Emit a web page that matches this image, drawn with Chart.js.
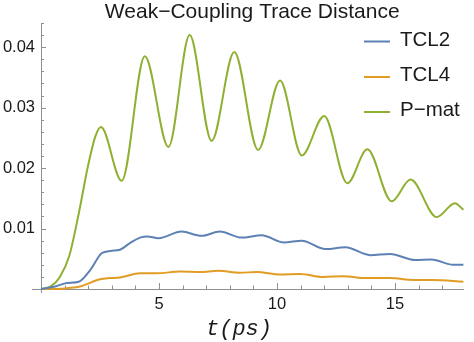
<!DOCTYPE html>
<html>
<head>
<meta charset="utf-8">
<script src="https://cdn.jsdelivr.net/npm/chart.js@4.4.1/dist/chart.umd.min.js"></script>
<style>
  html, body { margin: 0; padding: 0; background: #fff; }
  #wrap { width: 474px; height: 342px; }
</style>
</head>
<body>
<div id="wrap"><canvas id="chart"></canvas></div>
<script>
// values (t in ps, trace distance)
const tcl2T = [0, 0.6, 1.1, 1.6, 2.08, 2.57, 2.95, 3.35, 3.77, 4.2, 4.5, 4.97, 5.96, 6.8, 7.58, 8.5, 9.35, 10.3, 11.05, 12.05, 12.9, 13.95, 14.8, 15.85, 16.55, 17.47, 17.9];
const tcl2V = [0, 0.0004, 0.001, 0.0012, 0.0031, 0.0059, 0.0063, 0.0065, 0.0076, 0.0085, 0.0087, 0.0084, 0.0095, 0.0088, 0.0095, 0.0085, 0.0089, 0.0077, 0.0080, 0.0066, 0.0069, 0.0056, 0.0058, 0.0048, 0.0049, 0.0040, 0.0040];

const tcl4T = [0, 1.0, 1.65, 2.5, 2.9, 3.35, 4.2, 4.9, 5.9, 6.74, 7.5, 8.43, 9.14, 10.13, 10.97, 11.96, 12.81, 13.8, 14.8, 15.78, 16.6, 17.9];
const tcl4V = [0, 0.0001, 0.0004, 0.0016, 0.0018, 0.0019, 0.0026, 0.0026, 0.0029, 0.0028, 0.0030, 0.0027, 0.0028, 0.0024, 0.0025, 0.0020, 0.0021, 0.0018, 0.0018, 0.0015, 0.0015, 0.0012];

const pmatT = [0, 0.4, 0.8, 1.2, 1.6, 2.0, 2.3, 2.54, 3.42, 4.4, 5.4, 6.3, 7.23, 8.19, 9.2, 10.13, 11.05, 12.0, 12.98, 13.83, 14.86, 15.66, 16.77, 17.54, 17.9];
const pmatV = [0, 0.0004, 0.002, 0.0055, 0.0125, 0.0205, 0.0252, 0.0268, 0.0179, 0.0385, 0.0235, 0.042, 0.0245, 0.0392, 0.023, 0.0345, 0.0221, 0.0286, 0.0175, 0.0231, 0.0145, 0.0181, 0.0119, 0.0142, 0.0131];

const seriesNames = ['TCL2', 'TCL4', 'P\u2212mat'];
const seriesColors = ['#5E81B5', '#E19C24', '#8FB032'];

const xMax = 17.9;
const yMax = 0.044;
const axisColor = '#909090';

function toPoints(ts, vs) {
  return ts.map((t, i) => ({ x: t, y: vs[i] }));
}

// Mathematica style inward ticks + small axis overhangs
const axisTicks = {
  id: 'axisTicks',
  beforeDatasetsDraw(chart) {
    const ctx = chart.ctx;
    const xs = chart.scales.x, ys = chart.scales.y;
    const x0 = xs.left, y0 = ys.bottom;
    ctx.save();
    ctx.strokeStyle = axisColor;
    ctx.lineWidth = 1;
    ctx.beginPath();
    ctx.moveTo(x0 - 9, y0 + 0.5); ctx.lineTo(x0, y0 + 0.5);
    ctx.moveTo(x0 + 0.5, y0); ctx.lineTo(x0 + 0.5, y0 + 4);
    for (let i = 1; i <= 17; i++) {
      const px = Math.round(xs.getPixelForValue(i)) + 0.5;
      const len = (i % 5 === 0) ? 6 : 3.5;
      ctx.moveTo(px, y0); ctx.lineTo(px, y0 - len);
    }
    for (let j = 1; j <= 22; j++) {
      const py = Math.round(ys.getPixelForValue(j * 0.002)) + 0.5;
      const len = (j % 5 === 0) ? 5 : 3;
      ctx.moveTo(x0, py); ctx.lineTo(x0 + len, py);
    }
    ctx.stroke();
    ctx.restore();
  }
};

// legend in the upper right, lines + labels
const sideLegend = {
  id: 'sideLegend',
  afterDraw(chart) {
    const ctx = chart.ctx;
    const rows = [40, 75.5, 110.5];
    ctx.save();
    ctx.font = '20.5px "Liberation Sans", Arial, sans-serif';
    ctx.textBaseline = 'middle';
    ctx.fillStyle = '#1a1a1a';
    chart.data.datasets.forEach((ds, i) => {
      ctx.strokeStyle = ds.borderColor;
      ctx.lineWidth = 2;
      ctx.beginPath();
      ctx.moveTo(364, rows[i] + 1.5);
      ctx.lineTo(390, rows[i] + 1.5);
      ctx.stroke();
      ctx.fillText(ds.label, 400, rows[i]);
    });
    ctx.restore();
  }
};

const datasets = [
  { label: seriesNames[0], data: toPoints(tcl2T, tcl2V), borderColor: seriesColors[0] },
  { label: seriesNames[1], data: toPoints(tcl4T, tcl4V), borderColor: seriesColors[1] },
  { label: seriesNames[2], data: toPoints(pmatT, pmatV), borderColor: seriesColors[2] }
].map(d => Object.assign(d, {
  borderWidth: 2,
  pointRadius: 0,
  fill: false,
  cubicInterpolationMode: 'monotone',
  clip: 4
}));

function isMajor(v, step) {
  const k = v / step;
  return Math.abs(k - Math.round(k)) < 1e-6 && Math.round(k) !== 0;
}

new Chart(document.getElementById('chart'), {
  type: 'line',
  data: { datasets: datasets },
  plugins: [axisTicks, sideLegend],
  options: {
    responsive: true,
    maintainAspectRatio: false,
    animation: false,
    layout: { padding: { left: 0, right: 10.6, top: 0, bottom: 0 } },
    plugins: {
      legend: { display: false },
      tooltip: { enabled: false },
      title: {
        display: true,
        fullSize: false,
        text: 'Weak\u2212Coupling Trace Distance',
        color: '#1a1a1a',
        font: { family: '"Liberation Sans", Arial, sans-serif', size: 21, weight: 'normal', lineHeight: 1.0 },
        padding: { top: 2, bottom: 0 }
      }
    },
    scales: {
      x: {
        type: 'linear',
        min: 0,
        max: xMax,
        grid: { display: false, drawTicks: false },
        border: { display: true, color: axisColor, width: 1 },
        ticks: {
          stepSize: 5,
          padding: 6,
          color: '#1a1a1a',
          maxRotation: 0,
          font: { family: '"Liberation Sans", Arial, sans-serif', size: 16.5 },
          callback: v => isMajor(v, 5) ? String(v) : ''
        },
        title: {
          display: true,
          text: 't(ps)  ',
          color: '#1a1a1a',
          font: { family: '"Liberation Mono", "Courier New", monospace', size: 22, style: 'italic' },
          padding: { top: 0, bottom: 0 }
        },
        afterFit(scale) { scale.height = 53; }
      },
      y: {
        type: 'linear',
        min: 0,
        max: yMax,
        grid: { display: false, drawTicks: false },
        border: { display: true, color: axisColor, width: 1 },
        ticks: {
          stepSize: 0.01,
          padding: 6,
          color: '#1a1a1a',
          font: { family: '"Liberation Sans", Arial, sans-serif', size: 16.5 },
          callback: v => isMajor(v, 0.01) ? v.toFixed(2) : ''
        },
        afterFit(scale) { scale.width = 41; }
      }
    }
  }
});
</script>
</body>
</html>
